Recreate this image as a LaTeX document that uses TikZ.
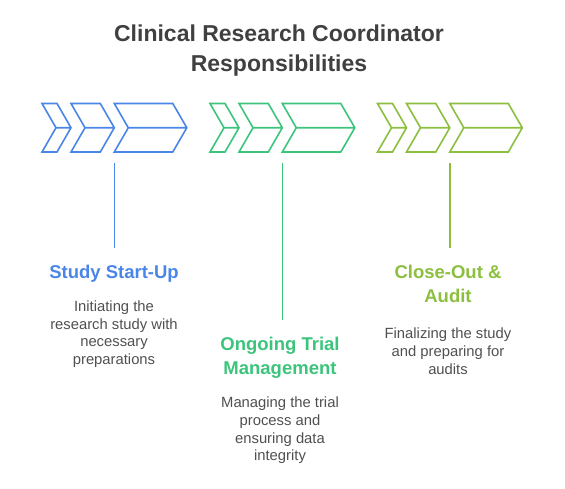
\documentclass[tikz,border=0pt]{standalone}
\usepackage{fontspec}
\setmainfont{Liberation Sans}
\definecolor{stepblue}{HTML}{4A86E8}
\definecolor{stepgreen}{HTML}{3CC47C}
\definecolor{stepolive}{HTML}{8CBF3F}
\definecolor{titlegray}{HTML}{404040}
\definecolor{textgray}{HTML}{505050}
\usetikzlibrary{positioning}

\begin{document}
\begin{tikzpicture}[x=1pt, y=-1pt,
	chev/.style={line width=1.6pt, line join=miter},
	head/.style={font=\fontsize{18.5}{24}\selectfont\bfseries, align=center, inner sep=0pt, anchor=north},
	desc/.style={font=\fontsize{14.8}{17.7}\selectfont, text=textgray, align=center, inner sep=0pt, anchor=north}]
			
			\useasboundingbox (0,0) rectangle (565,488);
			
			% Title
			\node[font=\fontsize{23}{29.5}\selectfont\bfseries, text=titlegray, align=center, inner sep=0pt, anchor=north] (title) at (279,25) {Clinical Research Coordinator\\Responsibilities};
			
			% Chevrons
			\foreach \gx/\col/\n in {42/stepblue/1, 210/stepgreen/2, 377.5/stepolive/3}
			{
				\foreach \ox/\w in {0/15, 29/29.3, 72.3/58.5}
				{
					\draw[chev, \col] (\gx+\ox,103.5) -- (\gx+\ox+\w,103.5) -- (\gx+\ox+\w+14,127.75)
						-- (\gx+\ox+\w,152) -- (\gx+\ox,152) -- (\gx+\ox+14,127.75) -- cycle
						(\gx+\ox+14,127.75) -- (\gx+\ox+\w+14,127.75);
				}
				\coordinate (s\n) at (\gx+72.3,163);
			}
			
			% Headings
			\node[head, stepblue] (h1) at (114,265) {Study Start-Up};
			\node[head, stepgreen] (h2) at (280,337) {Ongoing Trial\\Management};
			\node[head, stepolive] (h3) at (448,265) {Close-Out \&\\Audit};
			
			% Descriptions
			\node[desc, below=18pt of h1] (d1) {Initiating the\\research study with\\necessary\\preparations};
			\node[desc, below=18pt of h2] (d2) {Managing the trial\\process and\\ensuring data\\integrity};
			\node[desc, below=25pt of h3] (d3) {Finalizing the study\\and preparing for\\audits};
			
			% Stems
			\draw[chev, stepblue, shorten >=17pt] (s1) -- (s1 |- h1.north);
			\draw[chev, stepgreen, shorten >=17pt] (s2) -- (s2 |- h2.north);
			\draw[chev, stepolive, shorten >=17pt] (s3) -- (s3 |- h3.north);
			
		\end{tikzpicture}
\end{document}
